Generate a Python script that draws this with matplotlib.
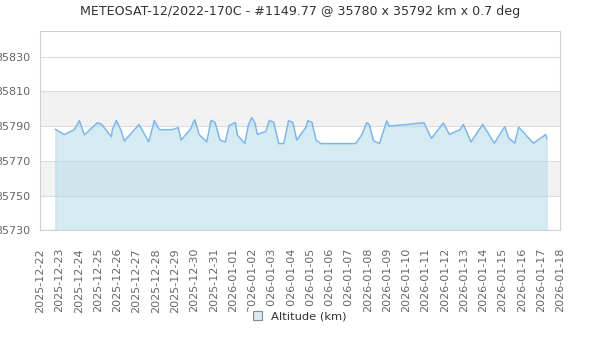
import matplotlib
matplotlib.use("Agg")
import matplotlib.pyplot as plt
import matplotlib.dates as mdates
import pandas as pd
import numpy as np
from matplotlib.patches import Patch

title = "METEOSAT-12/2022-170C - #1149.77 @ 35780 x 35792 km x 0.7 deg"
series_name = "Altitude (km)"

times = [
    "2025-12-22 18:41", "2025-12-23 05:54", "2025-12-23 18:22", "2025-12-24 00:36",
    "2025-12-24 06:50", "2025-12-24 23:02", "2025-12-25 04:31", "2025-12-25 16:28",
    "2025-12-25 17:43", "2025-12-25 22:42", "2025-12-26 04:11", "2025-12-26 08:40",
    "2025-12-27 03:00", "2025-12-27 15:04", "2025-12-27 22:03", "2025-12-28 04:17",
    "2025-12-28 20:07", "2025-12-29 03:58", "2025-12-29 07:19", "2025-12-29 18:33",
    "2025-12-30 00:24", "2025-12-30 05:45", "2025-12-30 15:21", "2025-12-30 20:43",
    "2025-12-31 01:42", "2025-12-31 07:55", "2025-12-31 14:31", "2025-12-31 19:09",
    "2026-01-01 03:00", "2026-01-01 05:28", "2026-01-01 14:42", "2026-01-01 19:12",
    "2026-01-01 23:25", "2026-01-02 03:10", "2026-01-02 06:24", "2026-01-02 16:52",
    "2026-01-02 21:22", "2026-01-03 02:50", "2026-01-03 09:04", "2026-01-03 15:19",
    "2026-01-03 21:17", "2026-01-04 02:38", "2026-01-04 07:30", "2026-01-04 19:05",
    "2026-01-04 21:13", "2026-01-05 02:34", "2026-01-05 07:34", "2026-01-05 13:25",
    "2026-01-07 09:01", "2026-01-07 16:52", "2026-01-07 22:44", "2026-01-08 01:58",
    "2026-01-08 06:58", "2026-01-08 14:25", "2026-01-08 23:38", "2026-01-09 02:53",
    "2026-01-10 22:08", "2026-01-11 07:13", "2026-01-11 22:10", "2026-01-12 05:40",
    "2026-01-12 18:59", "2026-01-12 23:07", "2026-01-13 08:41", "2026-01-13 23:17",
    "2026-01-14 13:44", "2026-01-15 02:41", "2026-01-15 07:40", "2026-01-15 15:09",
    "2026-01-15 20:08", "2026-01-16 14:20", "2026-01-17 05:47", "2026-01-17 07:02",
]
altitude = [
    35788.2, 35785.2, 35788.0, 35793.2,
    35785.0, 35792.0, 35791.0, 35784.0,
    35788.0, 35793.4, 35788.0, 35781.5,
    35791.0, 35781.0, 35793.2, 35788.0,
    35788.0, 35789.2, 35782.0, 35788.0,
    35793.8, 35785.3, 35781.0, 35793.4,
    35792.2, 35782.0, 35781.0, 35790.3,
    35792.2, 35785.0, 35780.0, 35790.7,
    35795.0, 35792.2, 35785.3, 35787.0,
    35793.4, 35792.2, 35780.0, 35780.0,
    35793.2, 35792.2, 35782.0, 35789.5,
    35793.2, 35792.2, 35782.0, 35780.0,
    35780.0, 35785.3, 35792.0, 35791.0,
    35781.7, 35780.0, 35793.0, 35790.0,
    35792.0, 35783.0, 35791.8, 35785.3,
    35788.0, 35791.0, 35781.0, 35791.0,
    35780.2, 35789.8, 35783.2, 35780.2,
    35789.5, 35780.2, 35785.2, 35782.9,
]
x_start = "2025-12-22"
x_end = "2026-01-18"
y_ticks = [35730, 35750, 35770, 35790, 35810, 35830]
y_min, y_max = 35730, 35845

t = pd.to_datetime(times)
t_num = mdates.date2num(t.to_pydatetime())

fig = plt.figure(figsize=(6, 3.6), dpi=100)
ax = fig.add_axes([40.3 / 600, 1 - 230.3 / 360, 520 / 600, 199.6 / 360])

# alternating bands
for i in range(len(y_ticks) - 1):
    if i % 2 == 1:
        ax.axhspan(y_ticks[i], y_ticks[i + 1], color="#f2f2f2", zorder=0, lw=0)

ax.fill_between(t_num, altitude, y_min, facecolor="#add8e6", alpha=0.5,
                edgecolor="#a8d4e8", linewidth=0.8, zorder=2)
ax.plot(t_num, altitude, color="#7cb5ec", linewidth=1.0, zorder=3)

ax.set_ylim(y_min, y_max)
ax.set_yticks(y_ticks)
ax.set_xlim(mdates.datestr2num(x_start), mdates.datestr2num(x_end))
days = pd.date_range(x_start, x_end, freq="D")
ax.set_xticks(mdates.date2num(days.to_pydatetime()))
ax.set_xticklabels([d.strftime("%Y-%m-%d") for d in days], rotation=90,
                   fontsize=8, color="#666666")
ax.tick_params(axis="x", length=0, pad=12.7)
ax.tick_params(axis="y", length=0, pad=7, labelsize=8, labelcolor="#666666")

ax.grid(axis="y", color="#dcdcdc", linewidth=0.8, zorder=1)
ax.set_axisbelow(True)
for s in ax.spines.values():
    s.set_color("#d0d0d0")
    s.set_linewidth(0.8)

fig.text(0.5, 1 - 12 / 360, title, ha="center", va="center", fontsize=9.1, color="#333333")

handle = Patch(facecolor="#d6ebf2", edgecolor="#888888", linewidth=0.8)
leg = fig.legend([handle], [series_name], loc="center", bbox_to_anchor=(300 / 600, 1 - 316 / 360),
                 frameon=True, fontsize=8.25, handlelength=0.8, handleheight=0.8,
                 handletextpad=0.8, borderpad=0.35, fancybox=False)
leg.get_frame().set_facecolor("white")
leg.get_frame().set_edgecolor("white")
leg.get_frame().set_alpha(1.0)
for txt in leg.get_texts():
    txt.set_color("#333333")

fig.savefig("out.png", dpi=100)
